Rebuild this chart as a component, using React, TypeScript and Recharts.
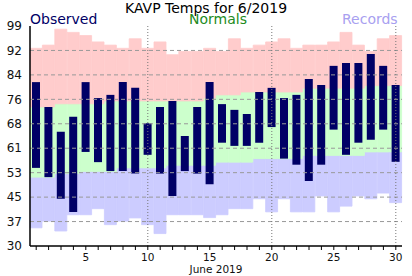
import React from 'react';
import { ComposedChart, Bar, XAxis, YAxis, ReferenceLine } from 'recharts';

const days = [1, 2, 3, 4, 5, 6, 7, 8, 9, 10, 11, 12, 13, 14, 15, 16, 17, 18, 19, 20, 21, 22, 23, 24, 25, 26, 27, 28, 29, 30];
const recordHigh = [92, 93, 98, 97, 96, 94, 93, 92, 95, 92, 94, 90, 91, 91, 92, 91, 95, 92, 93, 94, 95, 92, 93, 93, 94, 97, 93, 91, 95, 96];
const recordLow = [35.7, 37.8, 34.7, 39.8, 39.8, 41.7, 36.7, 37.8, 38.8, 36.7, 33.9, 39.8, 39.8, 39.8, 38.9, 39.8, 41.7, 41.7, 44.8, 40.7, 44.8, 40.7, 40.7, 45.7, 40.7, 42.5, 45.7, 44.8, 46.6, 43.6];
const normalHigh = [73.6, 73.6, 74.6, 74.6, 74.6, 74.6, 75.5, 75.5, 75.5, 75.5, 75.5, 75.5, 75.5, 75.5, 76.4, 77.4, 77.4, 78.3, 78.3, 78.3, 78.3, 78.3, 79.5, 79.5, 79.5, 79.5, 79.5, 80.3, 80.3, 80.3];
const normalLow = [51.6, 51.6, 52.7, 52.7, 53.4, 53.4, 53.4, 54.5, 54.5, 54.5, 54.5, 55.3, 55.3, 55.3, 55.3, 56.3, 56.3, 56.3, 57.4, 57.4, 57.4, 57.4, 58.4, 58.4, 58.4, 58.4, 58.4, 59.5, 59.5, 59.5];
const obsHigh = [81.4, 73.6, 65.8, 70.5, 81.4, 76.4, 77.4, 81.4, 79.6, 68.5, 73.6, 75.5, 64.5, 73.6, 81.4, 74.5, 72.7, 71.4, 78.3, 79.6, 76.4, 77.4, 82.4, 80.5, 86.5, 87.4, 87.4, 90.2, 86.5, 80.5];
const obsLow = [54.5, 51.6, 44.8, 40.7, 59.5, 56.3, 53.5, 53.5, 52.7, 58.6, 52.7, 45.7, 53.5, 52.7, 49.4, 62.4, 61.4, 61.4, 62.4, 67.3, 57.4, 55.5, 50.4, 55.5, 66.5, 58.6, 62.4, 63.3, 66.5, 56.4];

const yTicks = [30, 37.667, 45.333, 53, 60.667, 68.333, 76, 83.667, 91.333, 99];
const yTickLabels = ['30', '37', '45', '53', '61', '68', '76', '84', '92', '99'];
const xLabelDays = [5, 10, 15, 20, 25, 30];
const dottedDays = [10, 20, 30];
const gridValues = yTicks.slice(1, -1);

const data = days.map((d, i) => ({
  day: d,
  base: recordLow[i],
  lowBand: normalLow[i] - recordLow[i],
  midBand: normalHigh[i] - normalLow[i],
  highBand: recordHigh[i] - normalHigh[i],
  obs: [obsLow[i], obsHigh[i]],
}));

const FONT = '"DejaVu Sans", Verdana, sans-serif';

export default function App() {
  return (
    <div style={{ position: 'absolute', left: 0, top: 0, width: 412, height: 276, background: '#fff', fontFamily: FONT }}>
      <ComposedChart
        width={412}
        height={276}
        data={data}
        margin={{ top: 26, right: 10, bottom: 0, left: 0 }}
        barCategoryGap={0}
        barGap={0}
      >
        <XAxis
          xAxisId="main"
          dataKey="day"
          interval={0}
          height={30}
          tickSize={4}
          tickMargin={4}
          axisLine={{ stroke: '#000', strokeWidth: 1.5 }}
          tickLine={{ stroke: '#000' }}
          tick={{ fontSize: 10.5, fill: '#111', fontFamily: FONT }}
          tickFormatter={(v: number) => (xLabelDays.includes(v) ? String(v) : '')}
          label={{ value: 'June 2019', position: 'insideBottom', offset: 3, fontSize: 10.5, fill: '#111', fontFamily: FONT }}
        />
        <XAxis xAxisId="obs" dataKey="day" hide />
        <XAxis
          xAxisId="top"
          orientation="top"
          dataKey="day"
          height={0}
          tick={false}
          tickLine={false}
          axisLine={{ stroke: '#000', strokeWidth: 1.5 }}
        />
        <YAxis
          yAxisId="left"
          width={30}
          domain={[30, 99]}
          allowDataOverflow
          ticks={yTicks}
          interval={0}
          tickLine={false}
          axisLine={{ stroke: '#000', strokeWidth: 1.5 }}
          tick={{ fontSize: 12, fill: '#111', fontFamily: FONT }}
          tickFormatter={(v: number) => yTickLabels[yTicks.indexOf(v)] ?? ''}
        />
        <YAxis
          yAxisId="right"
          orientation="right"
          width={0}
          domain={[30, 99]}
          allowDataOverflow
          tick={false}
          tickLine={false}
          axisLine={{ stroke: '#000', strokeWidth: 1.5 }}
        />
        <Bar xAxisId="main" yAxisId="left" dataKey="base" stackId="b" fill="transparent" isAnimationActive={false} />
        <Bar xAxisId="main" yAxisId="left" dataKey="lowBand" stackId="b" fill="#ccccff" stroke="#ccccff" strokeWidth={0.8} isAnimationActive={false} />
        <Bar xAxisId="main" yAxisId="left" dataKey="midBand" stackId="b" fill="#ccffcc" stroke="#ccffcc" strokeWidth={0.8} isAnimationActive={false} />
        <Bar xAxisId="main" yAxisId="left" dataKey="highBand" stackId="b" fill="#ffcccc" stroke="#ffcccc" strokeWidth={0.8} isAnimationActive={false} />
        <Bar xAxisId="obs" yAxisId="left" dataKey="obs" barSize={8} fill="#000066" isAnimationActive={false} />
        {gridValues.map((v) => (
          <ReferenceLine key={'g' + v} xAxisId="main" yAxisId="left" y={v} stroke="#999" strokeDasharray="4 3" strokeWidth={1} />
        ))}
        {dottedDays.map((d) => (
          <ReferenceLine key={'d' + d} xAxisId="main" yAxisId="left" x={d} stroke="#777" strokeDasharray="1 2" strokeWidth={1} />
        ))}
      </ComposedChart>
      <div style={{ position: 'absolute', left: 0, width: 412, top: 0, textAlign: 'center', fontSize: 14, lineHeight: '17px', color: '#000', whiteSpace: 'nowrap' }}>
        KAVP Temps for 6/2019
      </div>
      <div style={{ position: 'absolute', left: 30, top: 13, fontSize: 14, lineHeight: '12px', color: '#000066', whiteSpace: 'nowrap' }}>
        Observed
      </div>
      <div style={{ position: 'absolute', left: 189, top: 13, fontSize: 14, lineHeight: '12px', color: '#228b22', whiteSpace: 'nowrap' }}>
        Normals
      </div>
      <div style={{ position: 'absolute', left: 342, top: 13, fontSize: 14, lineHeight: '12px', color: '#a8a0f0', whiteSpace: 'nowrap' }}>
        Records
      </div>
    </div>
  );
}
